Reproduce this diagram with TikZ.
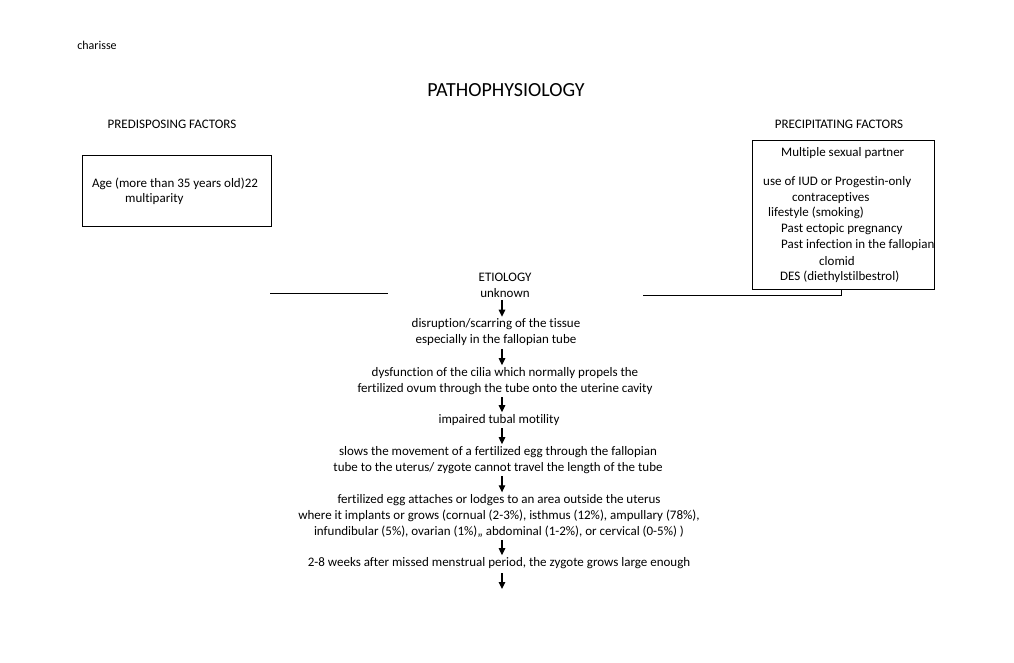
\documentclass[tikz,border=0pt]{standalone}
\usepackage{fontspec}
\setmainfont{Carlito}[Ligatures={NoCommon}]
\usetikzlibrary{arrows.meta}
\begin{document}
\begin{tikzpicture}[x=1pt,y=-1pt,
  txt/.style={inner sep=1pt, font=\fontsize{13}{16}\selectfont, align=center},
  ltxt/.style={inner sep=0pt, anchor=west, font=\fontsize{13}{16}\selectfont},
  boxln/.style={draw, line width=0.9pt},
  conn/.style={line width=0.9pt},
  arr/.style={line width=1.1pt, shorten <=1.5pt, shorten >=1pt, -{Triangle[length=7pt,width=6.5pt]}}]
\useasboundingbox (0,0) rectangle (1014,663);
% header
\node[inner sep=0pt, font=\fontsize{12}{14}\selectfont] (auth) at (97,45) {charisse};
\node[inner sep=0pt, font=\fontsize{20}{24}\selectfont] (title) at (506,90) {PATHOPHYSIOLOGY};
\node[txt] (predh) at (172,124) {PREDISPOSING FACTORS};
\node[txt] (prech) at (839,124) {PRECIPITATING FACTORS};
% predisposing box
\node[boxln, inner sep=0pt, minimum width=189pt, minimum height=71pt] (pre) at (176.5,190.5) {};
\node[ltxt] (age) at (92,184) {Age (more than 35 years old)22};
\node[ltxt] (multi) at (125,199) {multiparity};
% precipitating box
\node[boxln, inner sep=0pt, minimum width=182pt, minimum height=149pt] (post) at (843,214.5) {};
\node[ltxt] (p1) at (781,153) {Multiple sexual partner};
\node[ltxt] (p2) at (763,182) {use of IUD or Progestin-only};
\node[ltxt] (p3) at (792,198) {contraceptives};
\node[ltxt] (p4) at (768,213) {lifestyle (smoking)};
\node[ltxt] (p5) at (781,229) {Past ectopic pregnancy};
\node[ltxt] (p6) at (781,245) {Past infection in the fallopian};
\node[ltxt] (p7) at (819,261) {clomid};
\node[ltxt] (p8) at (780,277) {DES (diethylstilbestrol)};
% connector lines
\coordinate (la) at (270,293);
\coordinate (lb) at (388,293);
\coordinate (ra) at (643,295);
\coordinate (rb) at (841,295);
\draw[conn] (la) -- (lb);
\draw[conn] (ra) -- (rb) -- (post.south -| rb);
% chain
\node[txt] (etio) at (505,285) {ETIOLOGY\\unknown};
\node[txt] (n1) at (496,332.5) {disruption/scarring of the tissue\\especially in the fallopian tube};
\node[txt] (n2) at (505,381) {dysfunction of the cilia which normally propels the\\fertilized ovum through the tube onto the uterine cavity};
\node[txt] (n3) at (499,420) {impaired tubal motility};
\node[txt] (n4) at (498,460) {slows the movement of a fertilized egg through the fallopian\\tube to the uterus/ zygote cannot travel the length of the tube};
\node[txt] (n5) at (499,516) {fertilized egg attaches or lodges to an area outside the uterus\\where it implants or grows (cornual (2-3\%), isthmus (12\%), ampullary (78\%),\\infundibular (5\%), ovarian (1\%),, abdominal (1-2\%), or cervical (0-5\%) )};
\node[txt] (n6) at (499,563) {2-8 weeks after missed menstrual period, the zygote grows large enough};
\coordinate (ax) at (502,0);
\coordinate (aend) at (502,590);
\draw[arr] (etio.south -| ax) -- (n1.north -| ax);
\draw[arr] (n1.south -| ax) -- (n2.north -| ax);
\draw[arr] (n2.south -| ax) -- (n3.north -| ax);
\draw[arr] (n3.south -| ax) -- (n4.north -| ax);
\draw[arr] (n4.south -| ax) -- (n5.north -| ax);
\draw[arr] (n5.south -| ax) -- (n6.north -| ax);
\draw[arr] ([yshift=-2pt]n6.south -| ax) -- (aend);
\end{tikzpicture}
\end{document}
